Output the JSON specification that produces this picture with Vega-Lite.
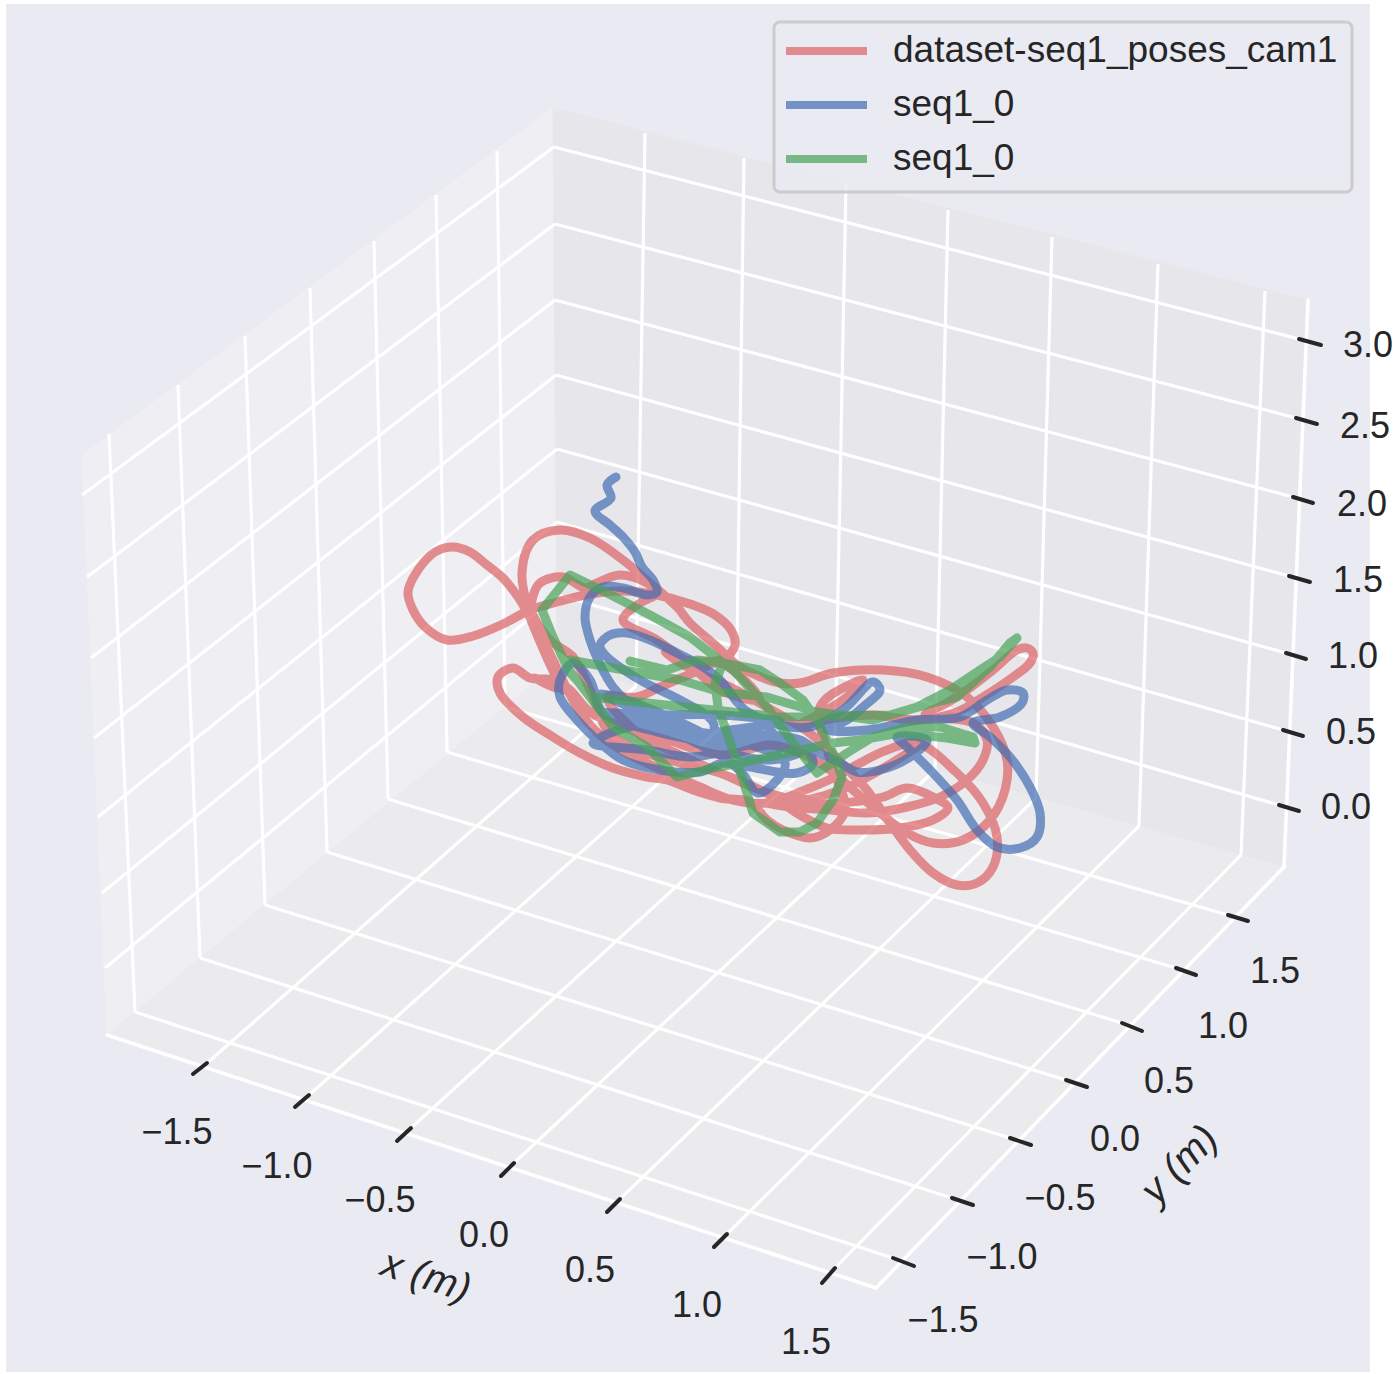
{"$schema":"https://vega.github.io/schema/vega-lite/v6.json","autosize":{"type":"fit","contains":"padding"},"width":1398,"height":1374,"padding":0,"background":"#FFFFFF","view":{"stroke":null},"config":{"font":"Liberation Sans"},
"datasets":{"trajectories":[
{"s":"r","u":535,"v":678},{"s":"r","u":560,"v":688},{"s":"r","u":548,"v":655},{"s":"r","u":530,"v":617},{"s":"r","u":548,"v":660},{"s":"r","u":563,"v":690},{"s":"r","u":550,"v":660},{"s":"r","u":540,"v":635},{"s":"r","u":530,"v":617},{"s":"r","u":518,"v":597},{"s":"r","u":503,"v":578},{"s":"r","u":487,"v":565},{"s":"r","u":470,"v":552},{"s":"r","u":453,"v":547},{"s":"r","u":435,"v":552},{"s":"r","u":418,"v":570},{"s":"r","u":408,"v":592},{"s":"r","u":413,"v":610},{"s":"r","u":425,"v":627},{"s":"r","u":447,"v":640},{"s":"r","u":473,"v":636},{"s":"r","u":503,"v":624},{"s":"r","u":530,"v":610},{"s":"r","u":557,"v":602},{"s":"r","u":590,"v":594},{"s":"r","u":623,"v":591},{"s":"r","u":657,"v":595},{"s":"r","u":690,"v":604},{"s":"r","u":715,"v":615},{"s":"r","u":731,"v":630},{"s":"r","u":735,"v":645},{"s":"r","u":725,"v":658},{"s":"r","u":705,"v":662},{"s":"r","u":685,"v":660},{"s":"r","u":665,"v":653},{"s":"r","u":697,"v":672},{"s":"r","u":730,"v":687},{"s":"r","u":775,"v":712},{"s":"r","u":812,"v":735},{"s":"r","u":853,"v":775},{"s":"r","u":867,"v":790},{"s":"r","u":890,"v":823},{"s":"r","u":910,"v":850},{"s":"r","u":933,"v":873},{"s":"r","u":957,"v":885},{"s":"r","u":977,"v":883},{"s":"r","u":993,"v":867},{"s":"r","u":997,"v":837},{"s":"r","u":983,"v":803},{"s":"r","u":957,"v":773},{"s":"r","u":917,"v":743},{"s":"r","u":887,"v":750},{"s":"r","u":860,"v":763},{"s":"r","u":835,"v":777},{"s":"r","u":805,"v":790},{"s":"r","u":767,"v":803},{"s":"r","u":733,"v":800},{"s":"r","u":700,"v":787},{"s":"r","u":667,"v":772},{"s":"r","u":630,"v":755},{"s":"r","u":600,"v":735},{"s":"r","u":580,"v":712},{"s":"r","u":565,"v":685},{"s":"r","u":553,"v":660},{"s":"r","u":542,"v":637},{"s":"r","u":530,"v":613},{"s":"r","u":522,"v":573},{"s":"r","u":533,"v":540},{"s":"r","u":560,"v":530},{"s":"r","u":590,"v":538},{"s":"r","u":623,"v":560},{"s":"r","u":650,"v":583},{"s":"r","u":677,"v":607},{"s":"r","u":690,"v":623},{"s":"r","u":715,"v":645},{"s":"r","u":740,"v":667},{"s":"r","u":780,"v":683},{"s":"r","u":800,"v":683},{"s":"r","u":833,"v":673},{"s":"r","u":883,"v":670},{"s":"r","u":927,"v":677},{"s":"r","u":967,"v":697},{"s":"r","u":993,"v":727},{"s":"r","u":1007,"v":760},{"s":"r","u":1005,"v":790},{"s":"r","u":990,"v":820},{"s":"r","u":963,"v":840},{"s":"r","u":933,"v":843},{"s":"r","u":907,"v":833},{"s":"r","u":880,"v":813},{"s":"r","u":853,"v":790},{"s":"r","u":830,"v":770},{"s":"r","u":805,"v":755},{"s":"r","u":770,"v":745},{"s":"r","u":723,"v":755},{"s":"r","u":667,"v":740},{"s":"r","u":623,"v":727},{"s":"r","u":590,"v":712},{"s":"r","u":570,"v":690},{"s":"r","u":555,"v":680},{"s":"r","u":530,"v":678},{"s":"r","u":513,"v":668},{"s":"r","u":498,"v":677},{"s":"r","u":500,"v":693},{"s":"r","u":523,"v":717},{"s":"r","u":553,"v":737},{"s":"r","u":580,"v":753},{"s":"r","u":613,"v":768},{"s":"r","u":647,"v":777},{"s":"r","u":667,"v":780},{"s":"r","u":693,"v":790},{"s":"r","u":720,"v":798},{"s":"r","u":750,"v":802},{"s":"r","u":767,"v":820},{"s":"r","u":783,"v":830},{"s":"r","u":810,"v":838},{"s":"r","u":830,"v":830},{"s":"r","u":845,"v":810},{"s":"r","u":830,"v":760},{"s":"r","u":820,"v":707},{"s":"r","u":853,"v":683},{"s":"r","u":863,"v":680},{"s":"r","u":847,"v":697},{"s":"r","u":827,"v":710},{"s":"r","u":800,"v":725},{"s":"r","u":835,"v":718},{"s":"r","u":873,"v":715},{"s":"r","u":917,"v":720},{"s":"r","u":957,"v":712},{"s":"r","u":983,"v":697},{"s":"r","u":1013,"v":677},{"s":"r","u":1030,"v":663},{"s":"r","u":1033,"v":653},{"s":"r","u":1027,"v":648},{"s":"r","u":1017,"v":650},{"s":"r","u":993,"v":670},{"s":"r","u":967,"v":690},{"s":"r","u":947,"v":703},{"s":"r","u":925,"v":715},{"s":"r","u":973,"v":723},{"s":"r","u":987,"v":740},{"s":"r","u":983,"v":760},{"s":"r","u":967,"v":780},{"s":"r","u":940,"v":797},{"s":"r","u":907,"v":807},{"s":"r","u":867,"v":813},{"s":"r","u":830,"v":810},{"s":"r","u":790,"v":807},{"s":"r","u":767,"v":803},{"s":"r","u":800,"v":805},{"s":"r","u":843,"v":803},{"s":"r","u":883,"v":797},{"s":"r","u":907,"v":788},{"s":"r","u":933,"v":797},{"s":"r","u":948,"v":808},{"s":"r","u":933,"v":820},{"s":"r","u":900,"v":828},{"s":"r","u":860,"v":830},{"s":"r","u":827,"v":828},{"s":"r","u":800,"v":815},{"s":"r","u":770,"v":795},{"s":"r","u":720,"v":773},{"s":"r","u":680,"v":763},{"s":"r","u":630,"v":747},{"s":"r","u":607,"v":730},{"s":"r","u":593,"v":697},{"s":"r","u":573,"v":657},{"s":"r","u":550,"v":640},{"s":"r","u":532,"v":612},{"s":"r","u":532,"v":600},{"s":"r","u":540,"v":583},{"s":"r","u":563,"v":577},{"s":"r","u":585,"v":588},{"s":"r","u":597,"v":583},{"s":"r","u":620,"v":575},{"s":"r","u":647,"v":583},{"s":"r","u":657,"v":593},{"s":"r","u":640,"v":603},{"s":"r","u":623,"v":620},{"s":"r","u":657,"v":640},{"s":"r","u":690,"v":665},{"s":"r","u":720,"v":690},{"s":"r","u":760,"v":700},{"s":"r","u":720,"v":663},{"s":"r","u":693,"v":673},{"s":"r","u":660,"v":687},{"s":"r","u":637,"v":697},{"s":"r","u":607,"v":697},{"s":"r","u":640,"v":735},{"s":"r","u":680,"v":755},{"s":"r","u":725,"v":775},{"s":"r","u":760,"v":790},{"s":"r","u":800,"v":800},{"s":"r","u":840,"v":790},{"s":"r","u":880,"v":770},{"s":"r","u":920,"v":745},
{"s":"b","u":616,"v":477},{"s":"b","u":607,"v":485},{"s":"b","u":611,"v":498},{"s":"b","u":595,"v":511},{"s":"b","u":610,"v":525},{"s":"b","u":623,"v":537},{"s":"b","u":635,"v":552},{"s":"b","u":642,"v":567},{"s":"b","u":653,"v":580},{"s":"b","u":657,"v":592},{"s":"b","u":647,"v":595},{"s":"b","u":623,"v":588},{"s":"b","u":603,"v":587},{"s":"b","u":590,"v":597},{"s":"b","u":585,"v":617},{"s":"b","u":590,"v":640},{"s":"b","u":598,"v":660},{"s":"b","u":613,"v":687},{"s":"b","u":640,"v":712},{"s":"b","u":680,"v":735},{"s":"b","u":720,"v":755},{"s":"b","u":742,"v":773},{"s":"b","u":758,"v":793},{"s":"b","u":777,"v":780},{"s":"b","u":785,"v":763},{"s":"b","u":750,"v":745},{"s":"b","u":715,"v":745},{"s":"b","u":713,"v":722},{"s":"b","u":680,"v":700},{"s":"b","u":640,"v":680},{"s":"b","u":605,"v":655},{"s":"b","u":600,"v":645},{"s":"b","u":610,"v":635},{"s":"b","u":627,"v":633},{"s":"b","u":650,"v":640},{"s":"b","u":677,"v":653},{"s":"b","u":700,"v":665},{"s":"b","u":720,"v":680},{"s":"b","u":745,"v":710},{"s":"b","u":780,"v":725},{"s":"b","u":810,"v":727},{"s":"b","u":843,"v":710},{"s":"b","u":873,"v":682},{"s":"b","u":880,"v":690},{"s":"b","u":863,"v":707},{"s":"b","u":847,"v":720},{"s":"b","u":827,"v":730},{"s":"b","u":867,"v":730},{"s":"b","u":917,"v":720},{"s":"b","u":960,"v":717},{"s":"b","u":987,"v":700},{"s":"b","u":1007,"v":690},{"s":"b","u":1023,"v":693},{"s":"b","u":1022,"v":703},{"s":"b","u":1000,"v":717},{"s":"b","u":973,"v":723},{"s":"b","u":990,"v":737},{"s":"b","u":1010,"v":757},{"s":"b","u":1030,"v":787},{"s":"b","u":1040,"v":813},{"s":"b","u":1037,"v":837},{"s":"b","u":1020,"v":848},{"s":"b","u":997,"v":847},{"s":"b","u":977,"v":830},{"s":"b","u":957,"v":800},{"s":"b","u":933,"v":773},{"s":"b","u":907,"v":747},{"s":"b","u":897,"v":737},{"s":"b","u":927,"v":740},{"s":"b","u":910,"v":757},{"s":"b","u":880,"v":770},{"s":"b","u":857,"v":772},{"s":"b","u":840,"v":763},{"s":"b","u":820,"v":753},{"s":"b","u":800,"v":740},{"s":"b","u":760,"v":735},{"s":"b","u":700,"v":740},{"s":"b","u":650,"v":730},{"s":"b","u":603,"v":713},{"s":"b","u":590,"v":680},{"s":"b","u":573,"v":663},{"s":"b","u":560,"v":680},{"s":"b","u":560,"v":697},{"s":"b","u":577,"v":720},{"s":"b","u":597,"v":740},{"s":"b","u":623,"v":760},{"s":"b","u":660,"v":770},{"s":"b","u":700,"v":772},{"s":"b","u":723,"v":763},{"s":"b","u":750,"v":767},{"s":"b","u":797,"v":773},{"s":"b","u":813,"v":763},{"s":"b","u":800,"v":745},{"s":"b","u":750,"v":745},{"s":"b","u":693,"v":757},{"s":"b","u":647,"v":750},{"s":"b","u":593,"v":743},{"s":"b","u":640,"v":725},{"s":"b","u":690,"v":735},{"s":"b","u":730,"v":730},{"s":"b","u":780,"v":722},{"s":"b","u":720,"v":715},{"s":"b","u":650,"v":715},{"s":"b","u":603,"v":713},{"s":"b","u":640,"v":722},{"s":"b","u":680,"v":730},{"s":"b","u":720,"v":735},{"s":"b","u":760,"v":745},{"s":"b","u":800,"v":752},{"s":"b","u":770,"v":760},{"s":"b","u":730,"v":752},{"s":"b","u":715,"v":740},{"s":"b","u":680,"v":722},{"s":"b","u":640,"v":705},{"s":"b","u":600,"v":693},{"s":"b","u":667,"v":723},{"s":"b","u":713,"v":743},{"s":"b","u":773,"v":733},
{"s":"g","u":630,"v":661},{"s":"g","u":667,"v":670},{"s":"g","u":697,"v":660},{"s":"g","u":723,"v":663},{"s":"g","u":760,"v":670},{"s":"g","u":780,"v":683},{"s":"g","u":803,"v":700},{"s":"g","u":817,"v":720},{"s":"g","u":833,"v":753},{"s":"g","u":842,"v":777},{"s":"g","u":833,"v":800},{"s":"g","u":817,"v":823},{"s":"g","u":800,"v":832},{"s":"g","u":780,"v":832},{"s":"g","u":753,"v":813},{"s":"g","u":743,"v":780},{"s":"g","u":727,"v":733},{"s":"g","u":718,"v":707},{"s":"g","u":715,"v":683},{"s":"g","u":723,"v":663},{"s":"g","u":733,"v":670},{"s":"g","u":767,"v":707},{"s":"g","u":793,"v":743},{"s":"g","u":817,"v":773},{"s":"g","u":847,"v":753},{"s":"g","u":873,"v":737},{"s":"g","u":907,"v":727},{"s":"g","u":940,"v":727},{"s":"g","u":973,"v":737},{"s":"g","u":975,"v":743},{"s":"g","u":947,"v":738},{"s":"g","u":900,"v":733},{"s":"g","u":860,"v":740},{"s":"g","u":833,"v":743},{"s":"g","u":793,"v":752},{"s":"g","u":740,"v":763},{"s":"g","u":713,"v":768},{"s":"g","u":677,"v":777},{"s":"g","u":647,"v":747},{"s":"g","u":613,"v":727},{"s":"g","u":590,"v":697},{"s":"g","u":567,"v":667},{"s":"g","u":570,"v":660},{"s":"g","u":613,"v":668},{"s":"g","u":680,"v":680},{"s":"g","u":720,"v":692},{"s":"g","u":767,"v":697},{"s":"g","u":817,"v":712},{"s":"g","u":873,"v":720},{"s":"g","u":917,"v":707},{"s":"g","u":950,"v":690},{"s":"g","u":980,"v":670},{"s":"g","u":1000,"v":657},{"s":"g","u":1017,"v":638},{"s":"g","u":1010,"v":643},{"s":"g","u":990,"v":667},{"s":"g","u":957,"v":697},{"s":"g","u":933,"v":703},{"s":"g","u":890,"v":715},{"s":"g","u":780,"v":717},{"s":"g","u":713,"v":710},{"s":"g","u":647,"v":703},{"s":"g","u":593,"v":697},{"s":"g","u":570,"v":673},{"s":"g","u":553,"v":637},{"s":"g","u":542,"v":610},{"s":"g","u":570,"v":575},{"s":"g","u":607,"v":593},{"s":"g","u":650,"v":615},{"s":"g","u":690,"v":637},{"s":"g","u":723,"v":663}
]},
"encoding":{"x":{"field":"u","type":"quantitative","scale":{"domain":[0,1398],"nice":false,"zero":false},"axis":null},"y":{"field":"v","type":"quantitative","scale":{"domain":[0,1374],"reverse":true,"nice":false,"zero":false},"axis":null}},
"layer":[
{"data":{"values":[{"u":6,"u2":1370,"v":4,"v2":1372}]},"mark":{"type":"rect","fill":"#EAEAF2"},"encoding":{"x2":{"field":"u2"},"y2":{"field":"v2"}}},
{"data":{"values":[{"i":0,"u":82,"v":455},{"i":1,"u":553,"v":108},{"i":2,"u":557,"v":664},{"i":3,"u":107,"v":1035},{"i":4,"u":82,"v":455}]},"mark":{"type":"line","fill":"#EEEEF3","stroke":"#EFEFF3","strokeWidth":1},"encoding":{"order":{"field":"i"}}},
{"data":{"values":[{"i":0,"u":553,"v":108},{"i":1,"u":1308,"v":300},{"i":2,"u":1284,"v":867},{"i":3,"u":557,"v":664},{"i":4,"u":553,"v":108}]},"mark":{"type":"line","fill":"#E6E6EB","stroke":"#E7E7EC","strokeWidth":1},"encoding":{"order":{"field":"i"}}},
{"data":{"values":[{"i":0,"u":107,"v":1035},{"i":1,"u":557,"v":664},{"i":2,"u":1284,"v":867},{"i":3,"u":876,"v":1288},{"i":4,"u":107,"v":1035}]},"mark":{"type":"line","fill":"#EBEBEE","stroke":"#EBEBEE","strokeWidth":1},"encoding":{"order":{"field":"i"}}},
{"data":{"values":[
{"u":82,"v":495,"u2":554,"v2":147},{"u":87,"v":577,"u2":555,"v2":224},{"u":91,"v":658,"u2":555,"v2":300},{"u":94,"v":738,"u2":556,"v2":375},{"u":98,"v":817,"u2":557,"v2":449},{"u":102,"v":893,"u2":557,"v2":522},{"u":105,"v":968,"u2":558,"v2":595},
{"u":554,"v":147,"u2":1299,"v2":339},{"u":555,"v":224,"u2":1296,"v2":418},{"u":555,"v":300,"u2":1293,"v2":497},{"u":556,"v":375,"u2":1289,"v2":576},{"u":557,"v":449,"u2":1286,"v2":653},{"u":557,"v":522,"u2":1283,"v2":730},{"u":558,"v":595,"u2":1279,"v2":805},
{"u":109,"v":434,"u2":135,"v2":1012},{"u":178,"v":385,"u2":200,"v2":958},{"u":245,"v":336,"u2":265,"v2":905},{"u":310,"v":288,"u2":327,"v2":852},{"u":374,"v":241,"u2":388,"v2":799},{"u":436,"v":195,"u2":447,"v2":752},{"u":497,"v":151,"u2":505,"v2":707},
{"u":645,"v":133,"u2":636,"v2":686},{"u":744,"v":158,"u2":736,"v2":714},{"u":846,"v":184,"u2":835,"v2":742},{"u":948,"v":210,"u2":935,"v2":770},{"u":1052,"v":237,"u2":1036,"v2":798},{"u":1158,"v":264,"u2":1139,"v2":826},{"u":1265,"v":291,"u2":1241,"v2":855},
{"u":636,"v":686,"u2":206,"v2":1064},{"u":736,"v":714,"u2":309,"v2":1095},{"u":835,"v":742,"u2":411,"v2":1128},{"u":935,"v":770,"u2":514,"v2":1163},{"u":1036,"v":798,"u2":620,"v2":1199},{"u":1139,"v":826,"u2":727,"v2":1234},{"u":1241,"v":855,"u2":835,"v2":1268},
{"u":135,"v":1012,"u2":893,"v2":1258},{"u":200,"v":958,"u2":952,"v2":1198},{"u":265,"v":905,"u2":1010,"v2":1138},{"u":327,"v":852,"u2":1066,"v2":1080},{"u":388,"v":799,"u2":1122,"v2":1023},{"u":447,"v":752,"u2":1176,"v2":968},{"u":505,"v":707,"u2":1228,"v2":915}
]},"mark":{"type":"rule","stroke":"#FFFFFF","strokeWidth":3.2},"encoding":{"x2":{"field":"u2"},"y2":{"field":"v2"}}},
{"data":{"values":[{"u":107,"v":1035,"u2":876,"v2":1288},{"u":876,"v":1288,"u2":1284,"v2":867},{"u":1284,"v":867,"u2":1308,"v2":300}]},"mark":{"type":"rule","stroke":"#FFFFFF","strokeWidth":3.6,"strokeCap":"round"},"encoding":{"x2":{"field":"u2"},"y2":{"field":"v2"}}},
{"data":{"values":[
{"u":207,"v":1063,"u2":193,"v2":1074},{"u":309,"v":1095,"u2":295,"v2":1107},{"u":411,"v":1128,"u2":397,"v2":1141},{"u":514,"v":1163,"u2":501,"v2":1176},{"u":620,"v":1199,"u2":607,"v2":1212},{"u":727,"v":1234,"u2":714,"v2":1247},{"u":835,"v":1268,"u2":822,"v2":1283},
{"u":893,"v":1258,"u2":914,"v2":1266},{"u":952,"v":1198,"u2":973,"v2":1205},{"u":1010,"v":1138,"u2":1031,"v2":1145},{"u":1066,"v":1080,"u2":1087,"v2":1087},{"u":1122,"v":1023,"u2":1142,"v2":1031},{"u":1176,"v":968,"u2":1196,"v2":975},{"u":1228,"v":915,"u2":1248,"v2":921},
{"u":1279,"v":805,"u2":1299,"v2":811},{"u":1283,"v":730,"u2":1303,"v2":736},{"u":1286,"v":653,"u2":1306,"v2":659},{"u":1289,"v":576,"u2":1310,"v2":582},{"u":1293,"v":497,"u2":1313,"v2":503},{"u":1296,"v":418,"u2":1317,"v2":424},{"u":1299,"v":339,"u2":1321,"v2":345}
]},"mark":{"type":"rule","stroke":"#262626","strokeWidth":4,"strokeCap":"round"},"encoding":{"x2":{"field":"u2"},"y2":{"field":"v2"}}},
{"data":{"name":"trajectories"},"transform":[{"window":[{"op":"row_number","as":"i"}]},{"calculate":"{r:'dataset-seq1_poses_cam1',b:'seq1_0',g:'seq1_0 '}[datum.s]","as":"series"},{"filter":"datum.s !== 'g'"}],
"mark":{"type":"line","interpolate":"catmull-rom","strokeWidth":9,"opacity":0.7,"strokeCap":"round","strokeJoin":"round"},
"encoding":{"order":{"field":"i"},"color":{"field":"series","type":"nominal","scale":{"domain":["dataset-seq1_poses_cam1","seq1_0","seq1_0 "],"range":["#DC6164","#426CB1","#47A359"]},"legend":{"title":null,"orient":"none","legendX":770,"legendY":21,"zindex":1,"symbolType":"stroke","symbolSize":6561,"symbolStrokeWidth":8,"clipHeight":36,"labelFontSize":37,"labelLimit":600,"labelColor":"#262626","labelFont":"Liberation Sans","labelOffset":22,"rowPadding":17,"padding":12}}}},
{"data":{"name":"trajectories"},"transform":[{"window":[{"op":"row_number","as":"i"}]},{"calculate":"{r:'dataset-seq1_poses_cam1',b:'seq1_0',g:'seq1_0 '}[datum.s]","as":"series"},{"filter":"datum.s === 'g'"}],
"mark":{"type":"line","strokeWidth":9,"opacity":0.7,"strokeCap":"round","strokeJoin":"round"},
"encoding":{"order":{"field":"i"},"color":{"field":"series","type":"nominal"}}},
{"data":{"values":[{"u":774,"u2":1352,"v":22,"v2":192}]},"mark":{"type":"rect","fill":"#EAEAF2","fillOpacity":0.8,"stroke":"#CCCCCC","strokeWidth":3,"cornerRadius":6},"encoding":{"x2":{"field":"u2"},"y2":{"field":"v2"}}},
{"data":{"values":[
{"t":"−1.5","u":177,"v":1133},{"t":"−1.0","u":277,"v":1167},{"t":"−0.5","u":380,"v":1201},{"t":"0.0","u":484,"v":1236},{"t":"0.5","u":590,"v":1271},{"t":"1.0","u":697,"v":1306},{"t":"1.5","u":806,"v":1343},
{"t":"−1.5","u":943,"v":1321},{"t":"−1.0","u":1002,"v":1258},{"t":"−0.5","u":1060,"v":1199},{"t":"0.0","u":1115,"v":1140},{"t":"0.5","u":1169,"v":1082},{"t":"1.0","u":1223,"v":1027},{"t":"1.5","u":1275,"v":972},
{"t":"0.0","u":1346,"v":808},{"t":"0.5","u":1351,"v":733},{"t":"1.0","u":1353,"v":657},{"t":"1.5","u":1358,"v":581},{"t":"2.0","u":1362,"v":505},{"t":"2.5","u":1365,"v":427},{"t":"3.0","u":1368,"v":346}
]},"mark":{"type":"text","font":"Liberation Sans","fontSize":36,"fill":"#262626","align":"center","baseline":"middle"},"encoding":{"text":{"field":"t"}}},
{"data":{"values":[{"t":"x (m)","u":426,"v":1277}]},"mark":{"type":"text","font":"Liberation Sans","fontStyle":"italic","fontSize":40,"fill":"#262626","align":"center","baseline":"middle","angle":18},"encoding":{"text":{"field":"t"}}},
{"data":{"values":[{"t":"y (m)","u":1180,"v":1165}]},"mark":{"type":"text","font":"Liberation Sans","fontStyle":"italic","fontSize":40,"fill":"#262626","align":"center","baseline":"middle","angle":-46},"encoding":{"text":{"field":"t"}}}
]}
